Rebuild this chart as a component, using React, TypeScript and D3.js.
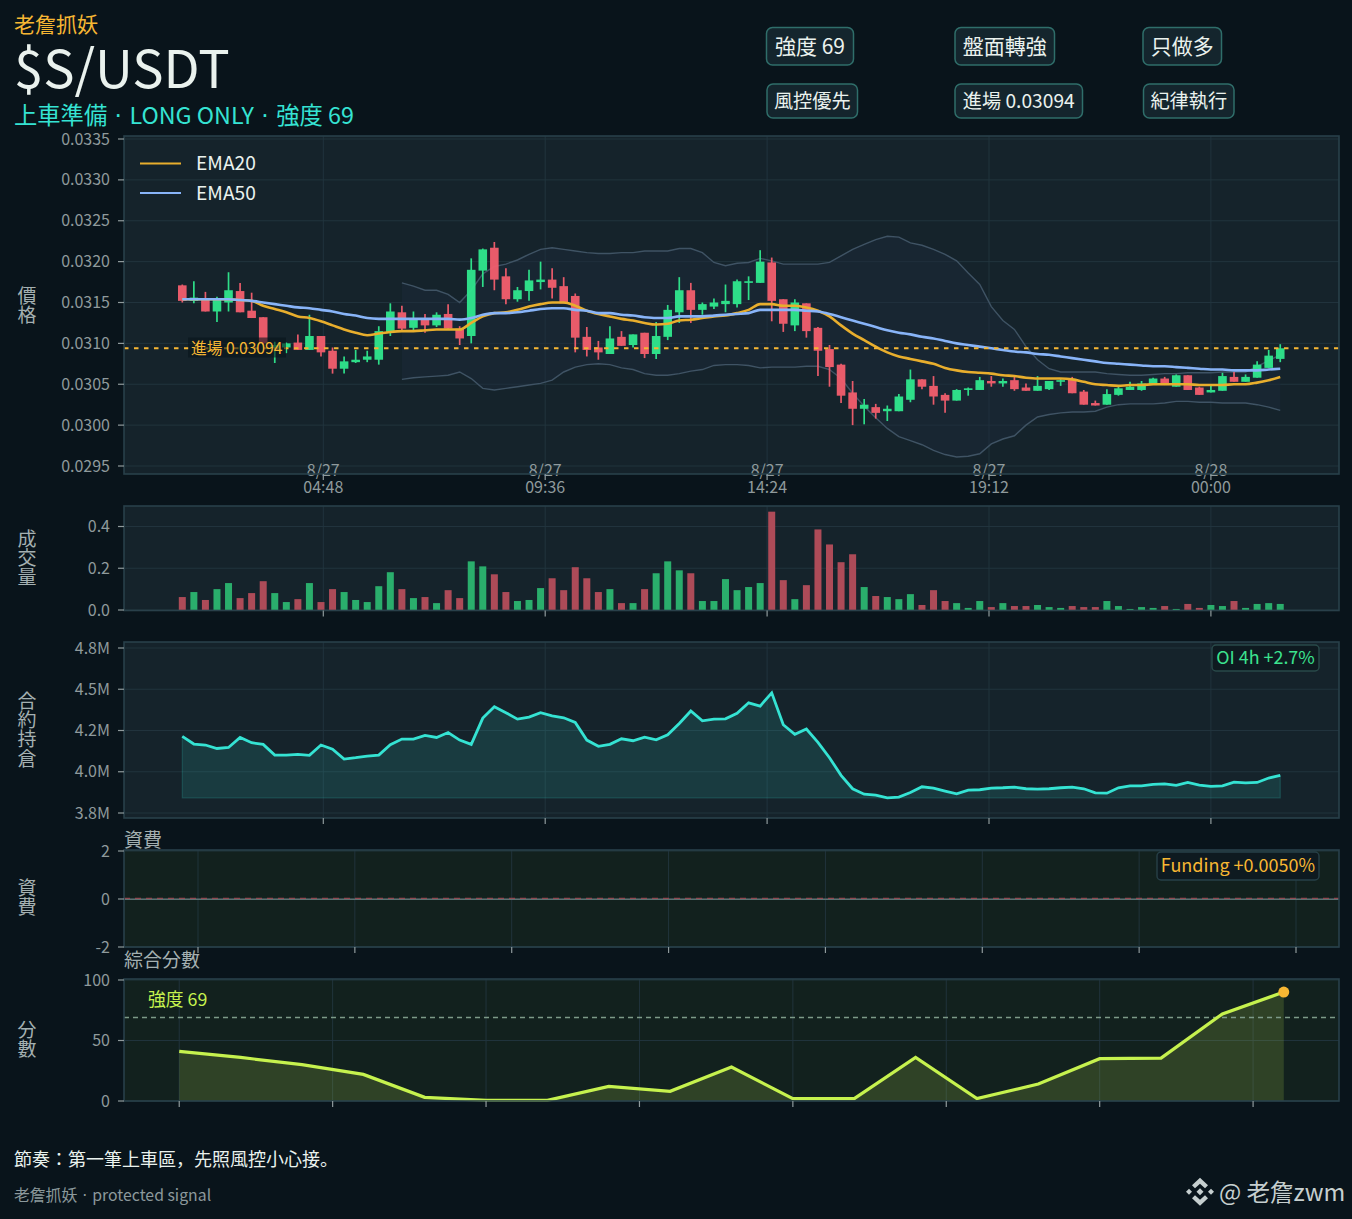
import * as d3 from "d3";

const FONT = '"Noto Sans CJK JP", "Noto Sans", sans-serif';
const DOT_FONT = '"DejaVu Sans"';

// 15m candles, first one 8/27 01:45
const firstCandle = new Date(2025, 7, 27, 1, 45);
const candleOpen = [
  0.03171, 0.03152, 0.03154, 0.03139, 0.0315, 0.03164, 0.0314, 0.03132, 0.03094, 0.03095,
  0.03101, 0.03092, 0.03109, 0.03091, 0.03069, 0.03077, 0.0308, 0.0308, 0.03114, 0.03138,
  0.03119, 0.0313, 0.03122, 0.03136, 0.03118, 0.03109, 0.03189, 0.03217, 0.03182, 0.03154,
  0.03164, 0.03175, 0.03178, 0.0317, 0.03158, 0.03108, 0.03095, 0.03087, 0.03108, 0.03098,
  0.03113, 0.03087, 0.03108, 0.03138, 0.03165, 0.03141, 0.03145, 0.03148, 0.03148, 0.03174,
  0.03174, 0.03199, 0.03154, 0.03122, 0.03149, 0.03119, 0.03093, 0.03074, 0.0304, 0.0302,
  0.03022, 0.03017, 0.03017, 0.03031, 0.03056, 0.03048, 0.03037, 0.0303, 0.03043, 0.03043,
  0.03054, 0.03051, 0.03055, 0.03046, 0.03042, 0.03044, 0.03053, 0.03056, 0.03041, 0.03027,
  0.03025, 0.03037, 0.03043, 0.03043, 0.03049, 0.03057, 0.03047, 0.03061, 0.03046, 0.0304,
  0.03042, 0.03059, 0.03053, 0.03058, 0.0307, 0.03081,
];
const candleClose = [
  0.03152, 0.03156, 0.03139, 0.03154, 0.03165, 0.03138, 0.03131, 0.031, 0.03098, 0.031,
  0.03092, 0.03109, 0.03089, 0.03069, 0.03078, 0.0308, 0.03084, 0.03115, 0.03139, 0.03118,
  0.03129, 0.03122, 0.03135, 0.03118, 0.03106, 0.0319, 0.03215, 0.03178, 0.03154, 0.03165,
  0.03177, 0.03178, 0.03168, 0.03149, 0.03107, 0.03092, 0.03089, 0.03106, 0.03097, 0.03111,
  0.03087, 0.03109, 0.03141, 0.03165, 0.03141, 0.03148, 0.0315, 0.03152, 0.03176, 0.03176,
  0.032, 0.03152, 0.03124, 0.0315, 0.03115, 0.03091, 0.03071, 0.03036, 0.0302, 0.03025,
  0.03015, 0.0302, 0.03035, 0.03056, 0.03047, 0.03035, 0.0303, 0.03043, 0.03045, 0.03055,
  0.03051, 0.03054, 0.03044, 0.03042, 0.03048, 0.03054, 0.03055, 0.03039, 0.03025, 0.03024,
  0.03038, 0.03045, 0.03047, 0.03051, 0.03057, 0.03049, 0.03061, 0.03043, 0.03037, 0.03043,
  0.0306, 0.03053, 0.03059, 0.03074, 0.03085, 0.03094,
];
const candleHigh = [
  0.03172, 0.03176, 0.03163, 0.03157, 0.03187, 0.03174, 0.03162, 0.03132, 0.03102, 0.03101,
  0.03111, 0.03135, 0.03109, 0.03095, 0.03084, 0.03092, 0.03091, 0.03121, 0.03149, 0.03146,
  0.03139, 0.03136, 0.03138, 0.03148, 0.03121, 0.03204, 0.03216, 0.03224, 0.03192, 0.03169,
  0.0319, 0.032, 0.03192, 0.03181, 0.03161, 0.0312, 0.03103, 0.03121, 0.03115, 0.03111,
  0.03113, 0.03126, 0.03147, 0.03181, 0.03174, 0.0315, 0.03155, 0.03172, 0.03178, 0.03182,
  0.03214, 0.03205, 0.03154, 0.03154, 0.03149, 0.0312, 0.03098, 0.03075, 0.03054, 0.03032,
  0.03026, 0.03024, 0.03038, 0.03068, 0.03056, 0.0306, 0.03039, 0.03044, 0.03046, 0.03059,
  0.0306, 0.03057, 0.03059, 0.03051, 0.0306, 0.03054, 0.03057, 0.03059, 0.03043, 0.0303,
  0.03044, 0.03049, 0.03053, 0.03054, 0.03058, 0.03059, 0.03062, 0.03061, 0.03047, 0.0305,
  0.03064, 0.03065, 0.03062, 0.03078, 0.03092, 0.03099,
];
const candleLow = [
  0.0315, 0.03149, 0.03139, 0.03126, 0.03139, 0.03138, 0.03131, 0.03098, 0.03076, 0.03088,
  0.03092, 0.03092, 0.03084, 0.03063, 0.03063, 0.03076, 0.03077, 0.03074, 0.03109, 0.03115,
  0.03115, 0.03113, 0.0312, 0.03117, 0.03098, 0.031, 0.03169, 0.03165, 0.03148, 0.03151,
  0.03152, 0.03166, 0.03155, 0.03149, 0.03089, 0.03084, 0.0308, 0.03087, 0.03097, 0.03095,
  0.03082, 0.03081, 0.03104, 0.03125, 0.03125, 0.03135, 0.03142, 0.03138, 0.03144, 0.03153,
  0.03174, 0.03127, 0.03114, 0.03115, 0.03107, 0.0306, 0.03047, 0.03027, 0.03, 0.03001,
  0.03008, 0.03005, 0.03017, 0.03028, 0.03044, 0.03025, 0.03015, 0.0303, 0.03036, 0.03043,
  0.03047, 0.03047, 0.03042, 0.03042, 0.03042, 0.03043, 0.03048, 0.03039, 0.03025, 0.03024,
  0.03025, 0.03036, 0.03043, 0.03042, 0.03049, 0.03049, 0.03047, 0.03043, 0.03037, 0.0304,
  0.03042, 0.03053, 0.03053, 0.03058, 0.0307, 0.03077,
];
const ema20 = [
  0.03154, 0.03154, 0.03154, 0.03154, 0.03154, 0.03153, 0.03152, 0.03146, 0.03142, 0.03138,
  0.03133, 0.03131, 0.03127, 0.03122, 0.03117, 0.03113, 0.0311, 0.03112, 0.03114, 0.03115,
  0.03115, 0.03116, 0.03117, 0.03117, 0.03117, 0.03125, 0.03133, 0.03137, 0.03138, 0.03141,
  0.03145, 0.03148, 0.0315, 0.0315, 0.03146, 0.0314, 0.03136, 0.03133, 0.0313, 0.03128,
  0.03125, 0.03123, 0.03124, 0.03128, 0.03129, 0.03131, 0.03133, 0.03134, 0.03137, 0.03141,
  0.03148, 0.03148, 0.03146, 0.03146, 0.03144, 0.0314, 0.03133, 0.03122, 0.03112, 0.03104,
  0.03096, 0.03089, 0.03084, 0.03081, 0.03078, 0.03075, 0.0307, 0.03067, 0.03065, 0.03064,
  0.03063, 0.03061, 0.0306, 0.03058, 0.03057, 0.03057, 0.03057, 0.03056, 0.03053, 0.0305,
  0.03049, 0.03048, 0.03049, 0.03049, 0.0305, 0.0305, 0.0305, 0.0305, 0.03049, 0.03049,
  0.03049, 0.0305, 0.0305, 0.03052, 0.03055, 0.03059,
];
const ema50 = [
  0.03154, 0.03154, 0.03154, 0.03154, 0.03154, 0.03153, 0.03152, 0.0315, 0.03148, 0.03146,
  0.03144, 0.03143, 0.03141, 0.03139, 0.03136, 0.03134, 0.03131, 0.0313, 0.0313, 0.0313,
  0.0313, 0.0313, 0.0313, 0.0313, 0.03129, 0.03131, 0.03135, 0.03137, 0.03137, 0.03138,
  0.0314, 0.03142, 0.03143, 0.03143, 0.03141, 0.0314, 0.03137, 0.03137, 0.03135, 0.03134,
  0.03132, 0.03131, 0.03131, 0.03133, 0.03133, 0.03133, 0.03134, 0.03135, 0.03136, 0.03137,
  0.03141, 0.03141, 0.03141, 0.03141, 0.0314, 0.03139, 0.03136, 0.03132, 0.03128, 0.03124,
  0.0312, 0.03116, 0.03113, 0.03111, 0.03108, 0.03106, 0.03103, 0.031, 0.03098, 0.03096,
  0.03094, 0.03092, 0.0309, 0.03089, 0.03087, 0.03086, 0.03084, 0.03082, 0.0308, 0.03078,
  0.03076, 0.03075, 0.03074, 0.03073, 0.03072, 0.03072, 0.03071, 0.0307, 0.03069, 0.03068,
  0.03068, 0.03067, 0.03067, 0.03067, 0.03068, 0.03069,
];
// bands only begin at candle 19 (20 period window)
const bandStart = 19;
const bandUpper = [
  0.03174, 0.0317, 0.03165, 0.03165, 0.0316, 0.0315, 0.03165, 0.03185, 0.03194, 0.03197,
  0.03202, 0.03209, 0.03215, 0.03217, 0.03215, 0.03213, 0.03211, 0.0321, 0.0321, 0.03211,
  0.03211, 0.03213, 0.03213, 0.03213, 0.03216, 0.03216, 0.03211, 0.03199, 0.03195, 0.03198,
  0.03199, 0.03204, 0.03201, 0.03197, 0.03197, 0.03197, 0.03197, 0.03199, 0.03207, 0.03215,
  0.03221, 0.03227, 0.03231, 0.0323, 0.03223, 0.0322, 0.03215, 0.03209, 0.03201, 0.03186,
  0.03172, 0.03145, 0.03128, 0.03117, 0.03096, 0.0308, 0.03069, 0.03065, 0.03065, 0.03065,
  0.03065, 0.03063, 0.03062, 0.03061, 0.03061, 0.03062, 0.03063, 0.03063, 0.03064, 0.03064,
  0.03064, 0.03065, 0.03065, 0.03065, 0.03072, 0.03079, 0.03086,
];
const bandLower = [
  0.03056, 0.03058, 0.03059, 0.0306, 0.03061, 0.03065, 0.03057, 0.03045, 0.03043, 0.03045,
  0.03047, 0.03049, 0.03051, 0.03055, 0.03065, 0.03071, 0.03074, 0.03075, 0.03074, 0.0307,
  0.03068, 0.03063, 0.03061, 0.03061, 0.03063, 0.03066, 0.03068, 0.03073, 0.03074, 0.03074,
  0.03073, 0.0307, 0.03071, 0.03071, 0.03071, 0.03072, 0.03072, 0.03068, 0.03057, 0.03039,
  0.03023, 0.03009, 0.02996, 0.02986, 0.02981, 0.02976, 0.02969, 0.02964, 0.02961, 0.02962,
  0.02965, 0.02977, 0.02983, 0.02987, 0.03, 0.0301, 0.03013, 0.03015, 0.03016, 0.03016,
  0.03017, 0.03022, 0.03025, 0.03026, 0.03026, 0.03026, 0.03027, 0.03029, 0.03029, 0.03028,
  0.03028, 0.03027, 0.03027, 0.03027, 0.03025, 0.03022, 0.03018,
];
const volumes = [
  0.062, 0.086, 0.048, 0.1, 0.129, 0.057, 0.081, 0.138, 0.081, 0.038,
  0.052, 0.129, 0.038, 0.1, 0.086, 0.048, 0.038, 0.114, 0.181, 0.1,
  0.057, 0.062, 0.033, 0.095, 0.057, 0.233, 0.209, 0.171, 0.086, 0.043,
  0.048, 0.105, 0.152, 0.095, 0.205, 0.152, 0.086, 0.1, 0.033, 0.033,
  0.1, 0.176, 0.233, 0.19, 0.176, 0.043, 0.043, 0.148, 0.095, 0.11,
  0.129, 0.471, 0.143, 0.052, 0.119, 0.386, 0.314, 0.229, 0.267, 0.11,
  0.067, 0.062, 0.052, 0.076, 0.024, 0.095, 0.043, 0.033, 0.01, 0.043,
  0.014, 0.033, 0.019, 0.019, 0.024, 0.014, 0.01, 0.019, 0.014, 0.014,
  0.043, 0.019, 0.005, 0.014, 0.01, 0.019, 0.005, 0.029, 0.01, 0.024,
  0.019, 0.043, 0.01, 0.029, 0.033, 0.029,
];
const openInterest = [
  4.214, 4.168, 4.162, 4.141, 4.147, 4.208, 4.176, 4.166, 4.101, 4.101,
  4.105, 4.099, 4.162, 4.137, 4.077, 4.085, 4.095, 4.101, 4.164, 4.198,
  4.198, 4.22, 4.208, 4.238, 4.192, 4.166, 4.325, 4.394, 4.358, 4.319,
  4.331, 4.358, 4.339, 4.327, 4.299, 4.192, 4.154, 4.166, 4.2, 4.188,
  4.21, 4.194, 4.224, 4.293, 4.368, 4.309, 4.319, 4.321, 4.354, 4.418,
  4.398, 4.478, 4.285, 4.227, 4.259, 4.178, 4.085, 3.978, 3.897, 3.864,
  3.858, 3.842, 3.846, 3.874, 3.909, 3.901, 3.883, 3.866, 3.889, 3.891,
  3.901, 3.903, 3.907, 3.897, 3.895, 3.897, 3.903, 3.907, 3.897, 3.872,
  3.87, 3.903, 3.915, 3.915, 3.923, 3.927, 3.917, 3.935, 3.919, 3.911,
  3.915, 3.937, 3.933, 3.935, 3.962, 3.978,
];
const scores = [41, 36, 30, 22, 3, 0.5, 0.5, 12, 8, 28, 2, 2, 36, 2, 14, 35, 35.5, 72, 90];
const fundingRate = 0.005;
const entryPrice = 0.03094;
const strength = 69;

const priceTicks = [0.0295, 0.03, 0.0305, 0.031, 0.0315, 0.032, 0.0325, 0.033, 0.0335];
const volumeTicks = [0, 0.2, 0.4];
const oiTicks = [3.75, 4, 4.25, 4.5, 4.75];
const oiTickLabels = ["3.8M", "4.0M", "4.2M", "4.5M", "4.8M"];
const fundingTicks = [-2, 0, 2];
const fundingXTicks = [0, 1, 2, 3, 4, 5, 6, 7];
const scoreTicks = [0, 50, 100];
const scoreXTicks = [0, 2.5, 5, 7.5, 10, 12.5, 15, 17.5];
const timeTicks = [
  new Date(2025, 7, 27, 4, 48),
  new Date(2025, 7, 27, 9, 36),
  new Date(2025, 7, 27, 14, 24),
  new Date(2025, 7, 27, 19, 12),
  new Date(2025, 7, 28, 0, 0),
];
const chipsTop = ["強度 69", "盤面轉強", "只做多"];
const chipsBottom = ["風控優先", "進場 0.03094", "紀律執行"];

const C = {
  bg: "#09141b",
  panel: "#15232b",
  panelGreen: "#12211e",
  border: "#29404a",
  grid: "#233640",
  tick: "#8f9a9c",
  label: "#a4b0b1",
  up: "#30e88e",
  down: "#f45e6e",
  ema20: "#e8ae2d",
  ema50: "#88b4f8",
  band: "#3f5364",
  amber: "#f7b733",
  teal: "#35e3d3",
  lime: "#c6f24e",
  white: "#eaf2ee",
};

const PX = { left: 124, right: 1339 };
const x = d3.scaleTime().domain([timeTicks[0], timeTicks[4]]).range([323.3, 1210.9]);
const xi = (i: number) => x(d3.timeMinute.offset(firstCandle, i * 15));
const yPrice = d3.scaleLinear().domain([0.0295, 0.0335]).range([466, 139]);
const yVol = d3.scaleLinear().domain([0, 0.4]).range([610, 526.5]);
const yOi = d3.scaleLinear().domain([3.75, 4.75]).range([813, 648]);
const yFund = d3.scaleLinear().domain([-2, 2]).range([947, 851]);
const xFund = d3.scaleLinear().domain([0, 7]).range([198, 1296]);
const yScore = d3.scaleLinear().domain([0, 100]).range([1101, 980]);
const xScore = d3.scaleLinear().domain([-0.9, 18.9]).range([PX.left, PX.right]);
const fmtDay = d3.timeFormat("%-m/%-d");
const fmtTime = d3.timeFormat("%H:%M");

function Panel(props: {
  top: number;
  bottom: number;
  fill: string;
  yTicks: number[];
  yScale: (v: number) => number;
  yLabels: string[];
  xTicks: number[];
  children?: any;
}) {
  const { top, bottom, fill, yTicks, yScale, yLabels, xTicks, children } = props;
  return (
    <g>
      <rect x={PX.left} y={top} width={PX.right - PX.left} height={bottom - top} fill={fill} />
      {yTicks.map((t) => (
        <line key={t} x1={PX.left} x2={PX.right} y1={yScale(t)} y2={yScale(t)} stroke={C.grid} strokeWidth={0.9} />
      ))}
      {xTicks.map((t) => (
        <line key={t} x1={t} x2={t} y1={top} y2={bottom} stroke={C.grid} strokeWidth={0.9} />
      ))}
      {children}
      <rect x={PX.left} y={top} width={PX.right - PX.left} height={bottom - top} fill="none" stroke={C.border} strokeWidth={1.6} />
      {yTicks.map((t, i) => (
        <g key={t}>
          <line x1={118} x2={PX.left} y1={yScale(t)} y2={yScale(t)} stroke={C.tick} strokeWidth={1.2} />
          <text x={110} y={yScale(t) + 5.5} textAnchor="end" fontSize={16} fill={C.tick}>
            {yLabels[i]}
          </text>
        </g>
      ))}
      {xTicks.map((t) => (
        <line key={t} x1={t} x2={t} y1={bottom} y2={bottom + 6} stroke={C.tick} strokeWidth={1.2} />
      ))}
    </g>
  );
}

function SideLabel({ chars, top }: { chars: string; top: number }) {
  return (
    <text textAnchor="middle" fontSize={19} fill={C.label}>
      {Array.from(chars).map((ch, i) => (
        <tspan key={i} x={27} y={top + i * 19.2}>
          {ch}
        </tspan>
      ))}
    </text>
  );
}

function Chip({ x0, x1, y0, y1, text, size }: { x0: number; x1: number; y0: number; y1: number; text: string; size: number }) {
  return (
    <g>
      <rect x={x0} y={y0} width={x1 - x0} height={y1 - y0} rx={6} fill="#14252d" stroke="#2f6e6a" strokeWidth={1.5} />
      <text x={(x0 + x1) / 2} y={(y0 + y1) / 2 + size * 0.36} textAnchor="middle" fontSize={size} fill={C.white}>
        {text}
      </text>
    </g>
  );
}

function Candles() {
  return (
    <g>
      {candleOpen.map((o, i) => {
        const c = candleClose[i];
        const col = c >= o ? C.up : C.down;
        const cx = xi(i);
        const top = yPrice(Math.max(o, c));
        const bottom = yPrice(Math.min(o, c));
        return (
          <g key={i} opacity={0.95}>
            <line x1={cx} x2={cx} y1={yPrice(candleHigh[i])} y2={yPrice(candleLow[i])} stroke={col} strokeWidth={1.7} />
            <rect x={cx - 4.3} y={top} width={8.6} height={Math.max(bottom - top, 1.5)} fill={col} />
          </g>
        );
      })}
    </g>
  );
}

export default function App() {
  const priceLine = d3.line<number>().x((_, i) => xi(i)).y((d) => yPrice(d)).curve(d3.curveMonotoneX);
  const bandLine = d3.line<number>().x((_, i) => xi(i + bandStart)).y((d) => yPrice(d));
  const bandArea = d3
    .area<number>()
    .x((_, i) => xi(i + bandStart))
    .y0((_, i) => yPrice(bandLower[i]))
    .y1((d) => yPrice(d));
  const oiLine = d3.line<number>().x((_, i) => xi(i)).y((d) => yOi(d));
  const oiMin = d3.min(openInterest) as number;
  const oiArea = d3.area<number>().x((_, i) => xi(i)).y0(yOi(oiMin)).y1((d) => yOi(d));
  const scoreLine = d3.line<number>().x((_, i) => xScore(i)).y((d) => yScore(d));
  const scoreArea = d3.area<number>().x((_, i) => xScore(i)).y0(yScore(0)).y1((d) => yScore(d));
  const timeXs = timeTicks.map((t) => x(t));
  const last = scores.length - 1;

  return (
    <svg
      width={1352}
      height={1219}
      viewBox="0 0 1352 1219"
      style={{ position: "absolute", left: 0, top: 0, display: "block" }}
      fontFamily={FONT}
    >
      <rect width={1352} height={1219} fill={C.bg} />

      {/* header */}
      <text x={14} y={32} fontSize={21} fill={C.amber}>老詹抓妖</text>
      <text x={14} y={87.5} fontSize={52.5} fill={C.white}>$S/USDT</text>
      <text x={14} y={123.5} fontSize={23.3} fill={C.teal}>
        上車準備<tspan fontFamily={DOT_FONT}> · </tspan>LONG ONLY<tspan fontFamily={DOT_FONT}> · </tspan>強度 69
      </text>
      {[
        [766.5, 853.5],
        [955, 1054.5],
        [1143, 1221.5],
      ].map(([a, b], i) => (
        <Chip key={i} x0={a} x1={b} y0={27.5} y1={65} text={chipsTop[i]} size={21} />
      ))}
      {[
        [767, 857.5],
        [955, 1082.5],
        [1143.5, 1234],
      ].map(([a, b], i) => (
        <Chip key={i} x0={a} x1={b} y0={84} y1={118} text={chipsBottom[i]} size={19.2} />
      ))}

      {/* price */}
      <Panel
        top={136}
        bottom={474}
        fill={C.panel}
        yTicks={priceTicks}
        yScale={yPrice}
        yLabels={priceTicks.map((t) => t.toFixed(4))}
        xTicks={timeXs}
      >
        <path d={bandArea(bandUpper) as string} fill="#1c2a3c" opacity={0.45} />
        <path d={bandLine(bandUpper) as string} fill="none" stroke={C.band} strokeWidth={1.4} />
        <path d={bandLine(bandLower) as string} fill="none" stroke={C.band} strokeWidth={1.4} />
        <Candles />
        <path d={priceLine(ema20) as string} fill="none" stroke={C.ema20} strokeWidth={2.6} />
        <path d={priceLine(ema50) as string} fill="none" stroke={C.ema50} strokeWidth={2.6} />
        <line
          x1={PX.left}
          x2={PX.right}
          y1={yPrice(entryPrice)}
          y2={yPrice(entryPrice)}
          stroke={C.amber}
          strokeWidth={2}
          strokeDasharray="4.5 5.5"
        />
        <rect x={188} y={337.5} width={98} height={20} fill={C.bg} opacity={0.6} />
        <text x={191} y={354} fontSize={15.7} fill={C.amber}>進場 0.03094</text>
        {timeTicks.map((t, i) => (
          <text key={i} textAnchor="middle" fontSize={16} fill={C.tick}>
            <tspan x={timeXs[i]} y={476}>{fmtDay(t)}</tspan>
            <tspan x={timeXs[i]} y={493}>{fmtTime(t)}</tspan>
          </text>
        ))}
        <line x1={140} x2={181} y1={163.5} y2={163.5} stroke={C.ema20} strokeWidth={2.2} />
        <text x={196} y={170} fontSize={19.2} fill={C.white}>EMA20</text>
        <line x1={140} x2={181} y1={193} y2={193} stroke={C.ema50} strokeWidth={2.2} />
        <text x={196} y={199.5} fontSize={19.2} fill={C.white}>EMA50</text>
      </Panel>
      <SideLabel chars="價格" top={303} />

      {/* volume */}
      <Panel
        top={506}
        bottom={610.5}
        fill={C.panel}
        yTicks={volumeTicks}
        yScale={yVol}
        yLabels={volumeTicks.map((t) => t.toFixed(1))}
        xTicks={timeXs}
      >
        {volumes.map((v, i) => (
          <rect
            key={i}
            x={xi(i) - 3.5}
            y={yVol(v)}
            width={7}
            height={yVol(0) - yVol(v)}
            fill={candleClose[i] >= candleOpen[i] ? "#2aae6c" : "#ad4b58"}
          />
        ))}
      </Panel>
      <SideLabel chars="成交量" top={546} />

      {/* open interest */}
      <Panel
        top={642}
        bottom={818}
        fill={C.panel}
        yTicks={oiTicks}
        yScale={yOi}
        yLabels={oiTickLabels}
        xTicks={timeXs}
      >
        <path d={oiArea(openInterest) as string} fill={C.teal} fillOpacity={0.13} stroke={C.teal} strokeOpacity={0.18} strokeWidth={1.2} />
        <path d={oiLine(openInterest) as string} fill="none" stroke={C.teal} strokeWidth={2.8} />
        <rect x={1212} y={645} width={107} height={26} rx={4} fill="#0e1a20" stroke="#294a4a" strokeWidth={1.4} />
        <text x={1265.5} y={664} textAnchor="middle" fontSize={17.9} fill="#3ce38f">OI 4h +2.7%</text>
      </Panel>
      <SideLabel chars="合約持倉" top={708} />

      {/* funding */}
      <text x={124} y={847} fontSize={19} fill={C.label}>資費</text>
      <Panel
        top={850}
        bottom={947}
        fill={C.panelGreen}
        yTicks={fundingTicks}
        yScale={yFund}
        yLabels={fundingTicks.map(String)}
        xTicks={fundingXTicks.map((t) => xFund(t))}
      >
        <line x1={PX.left} x2={PX.right} y1={yFund(0) + 0.3} y2={yFund(0) + 0.3} stroke="#5e7072" strokeWidth={1.5} />
        <line
          x1={PX.left}
          x2={PX.right}
          y1={yFund(fundingRate) - 0.6}
          y2={yFund(fundingRate) - 0.6}
          stroke="#8f4a52"
          strokeWidth={1.2}
          strokeDasharray="6 5"
        />
        <rect x={1157} y={852} width={162} height={28} rx={4} fill="#0e1a20" stroke="#274048" strokeWidth={1.4} />
        <text x={1238} y={872} textAnchor="middle" fontSize={18} fill={C.amber}>Funding +0.0050%</text>
      </Panel>
      <SideLabel chars="資費" top={895} />

      {/* score */}
      <text x={124} y={967} fontSize={19} fill={C.label}>綜合分數</text>
      <Panel
        top={979}
        bottom={1101}
        fill={C.panelGreen}
        yTicks={scoreTicks}
        yScale={yScore}
        yLabels={scoreTicks.map(String)}
        xTicks={scoreXTicks.map((t) => xScore(t))}
      >
        <path d={scoreArea(scores) as string} fill={C.lime} fillOpacity={0.16} />
        <line
          x1={PX.left}
          x2={PX.right}
          y1={yScore(strength)}
          y2={yScore(strength)}
          stroke="#7d9a88"
          strokeWidth={1.3}
          strokeDasharray="5 4"
        />
        <path d={scoreLine(scores) as string} fill="none" stroke={C.lime} strokeWidth={3.2} />
        <circle cx={xScore(last)} cy={yScore(scores[last])} r={5.5} fill={C.amber} />
        <text x={148} y={1006} fontSize={17.8} fill={C.lime}>強度 {strength}</text>
      </Panel>
      <SideLabel chars="分數" top={1037} />

      {/* footer */}
      <text x={14} y={1166} fontSize={18} fill={C.white}>節奏：第一筆上車區，先照風控小心接。</text>
      <text x={14} y={1201} fontSize={15.8} fill="#8c999c">
        老詹抓妖<tspan fontFamily={DOT_FONT}> · </tspan>protected signal
      </text>
      <g transform="translate(1200,1191.7)" fill="#c6cfcf">
        <path d="M-8,-6.5 L0,-14 L8,-6.5 L5,-3.5 L0,-8 L-5,-3.5Z" />
        <path d="M-8,6.5 L0,14 L8,6.5 L5,3.5 L0,8 L-5,3.5Z" />
        <path d="M0,-3.5 L3.5,0 L0,3.5 L-3.5,0Z" />
        <path d="M-14,0 L-11,-3 L-8,0 L-11,3Z" />
        <path d="M14,0 L11,-3 L8,0 L11,3Z" />
      </g>
      <text x={1219} y={1201} fontSize={23.5} fill="#c6cfcf">@ 老詹zwm</text>
    </svg>
  );
}
